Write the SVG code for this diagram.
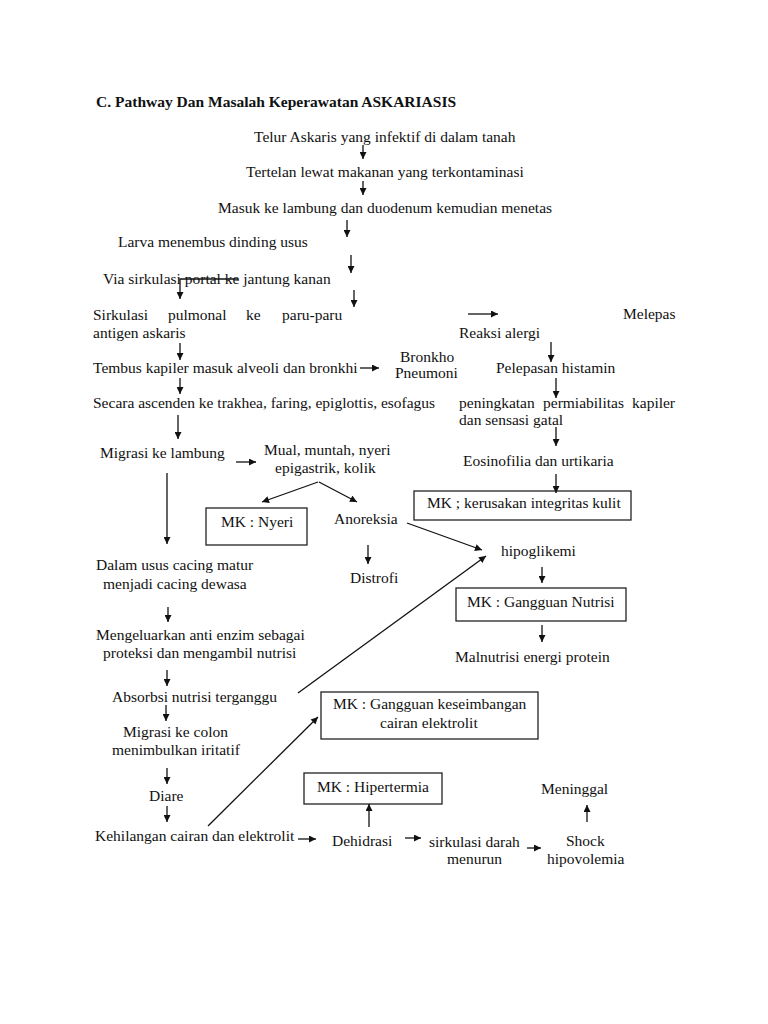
<svg xmlns="http://www.w3.org/2000/svg" width="768" height="1024" viewBox="0 0 768 1024">
<style>
text{font-family:"Liberation Serif","Times New Roman",serif;font-size:15.5px;fill:#111}
.t{font-weight:bold}
.box{fill:#fff;stroke:#222;stroke-width:1.3}
.c line,.c polyline{stroke:#111;stroke-width:1.3;fill:none;marker-end:url(#ah)}
</style>
<defs>
<marker id="ah" viewBox="0 0 10 10" refX="10" refY="5" markerWidth="8" markerHeight="7" markerUnits="userSpaceOnUse" orient="auto">
<path d="M0,0 L10,5 L0,10 z" fill="#111"/>
</marker>
</defs>
<rect width="768" height="1024" fill="#fff"/>
<text class="t" x="96" y="107">C.</text>
<text class="t" x="115" y="107">Pathway Dan Masalah Keperawatan ASKARIASIS</text>

<g id="n1"><text x="254" y="142">Telur Askaris yang infektif di dalam tanah</text></g>
<g id="n2"><text x="246" y="177">Tertelan lewat makanan yang terkontaminasi</text></g>
<g id="n3"><text x="218" y="213">Masuk ke lambung dan duodenum kemudian menetas</text></g>
<g id="n4"><text x="118" y="247">Larva menembus dinding usus</text></g>
<g id="n5"><text x="103" y="284">Via sirkulasi portal ke jantung kanan</text></g>
<g id="n6"><text x="93" y="320">Sirkulasi</text><text x="168" y="320">pulmonal</text><text x="246" y="320">ke</text><text x="282" y="320">paru-paru</text><text x="623" y="319">Melepas</text><text x="93" y="338">antigen askaris</text></g>
<g id="n7"><text x="459" y="338">Reaksi alergi</text></g>
<g id="n8"><text x="400" y="362">Bronkho</text><text x="395" y="378">Pneumoni</text></g>
<g id="n9"><text x="93" y="373">Tembus kapiler masuk alveoli dan bronkhi</text></g>
<g id="n10"><text x="496" y="373">Pelepasan histamin</text></g>
<g id="n11"><text x="93" y="408">Secara ascenden ke trakhea, faring, epiglottis, esofagus</text></g>
<g id="n12"><text x="459" y="408">peningkatan</text><text x="543" y="408">permiabilitas</text><text x="632" y="408">kapiler</text><text x="459" y="425">dan sensasi gatal</text></g>
<g id="n13"><text x="100" y="458">Migrasi ke lambung</text></g>
<g id="n14"><text x="264" y="455">Mual, muntah, nyeri</text><text x="275" y="473">epigastrik, kolik</text></g>
<g id="n15"><text x="463" y="466">Eosinofilia dan urtikaria</text></g>
<g id="n16"><rect class="box" x="414" y="491" width="217" height="29"/><text x="427" y="508">MK ; kerusakan integritas kulit</text></g>
<g id="n17"><rect class="box" x="206" y="508" width="101" height="37"/><text x="221" y="527">MK : Nyeri</text></g>
<g id="n18"><text x="334" y="524">Anoreksia</text></g>
<g id="n19"><text x="501" y="556">hipoglikemi</text></g>
<g id="n20"><text x="350" y="583">Distrofi</text></g>
<g id="n21"><text x="96" y="570">Dalam usus cacing matur</text><text x="103" y="589">menjadi cacing dewasa</text></g>
<g id="n22"><rect class="box" x="456" y="588" width="170" height="33"/><text x="467" y="607">MK : Gangguan Nutrisi</text></g>
<g id="n23"><text x="96" y="640">Mengeluarkan anti enzim sebagai</text><text x="103" y="658">proteksi dan mengambil nutrisi</text></g>
<g id="n24"><text x="455" y="662">Malnutrisi energi protein</text></g>
<g id="n25"><text x="112" y="702">Absorbsi nutrisi terganggu</text></g>
<g id="n26"><rect class="box" x="321" y="692" width="217" height="47"/><text x="333" y="709">MK : Gangguan keseimbangan</text><text x="380" y="728">cairan elektrolit</text></g>
<g id="n27"><text x="123" y="737">Migrasi ke colon</text><text x="112" y="755">menimbulkan iritatif</text></g>
<g id="n28"><rect class="box" x="304" y="773" width="138" height="31"/><text x="317" y="792">MK : Hipertermia</text></g>
<g id="n29"><text x="541" y="794">Meninggal</text></g>
<g id="n30"><text x="149" y="801">Diare</text></g>
<g id="n31"><text x="95" y="841">Kehilangan cairan dan elektrolit</text></g>
<g id="n32"><text x="332" y="846">Dehidrasi</text></g>
<g id="n33"><text x="429" y="847">sirkulasi darah</text><text x="447" y="864">menurun</text></g>
<g id="n34"><text x="566" y="846">Shock</text><text x="547" y="864">hipovolemia</text></g>

<g id="connectors" class="c">
<line x1="363" y1="145" x2="363" y2="159"/>
<line x1="363" y1="181" x2="363" y2="195"/>
<line x1="347" y1="220" x2="347" y2="237"/>
<line x1="351" y1="255" x2="351" y2="273"/>
<polyline points="238,279 180,279 180,299"/>
<line x1="354" y1="290" x2="354" y2="307"/>
<line x1="468" y1="314" x2="498" y2="314"/>
<line x1="180" y1="343" x2="180" y2="360"/>
<line x1="551" y1="342" x2="551" y2="362"/>
<line x1="360" y1="368" x2="379" y2="368"/>
<line x1="180" y1="378" x2="180" y2="394"/>
<line x1="556" y1="378" x2="556" y2="398"/>
<line x1="178" y1="415" x2="178" y2="439"/>
<line x1="556" y1="427" x2="556" y2="446"/>
<line x1="236" y1="462" x2="256" y2="462"/>
<line x1="556" y1="474" x2="556" y2="493"/>
<line x1="167" y1="473" x2="167" y2="544"/>
<line x1="318" y1="482" x2="262" y2="502"/>
<line x1="319" y1="482" x2="357" y2="502"/>
<line x1="407" y1="523" x2="482" y2="550"/>
<line x1="368" y1="545" x2="368" y2="564"/>
<line x1="542" y1="567" x2="542" y2="583"/>
<line x1="168" y1="607" x2="168" y2="622"/>
<line x1="542" y1="625" x2="542" y2="642"/>
<line x1="167" y1="670" x2="167" y2="686"/>
<line x1="298" y1="693" x2="486" y2="556"/>
<line x1="166" y1="705" x2="166" y2="721"/>
<line x1="167" y1="768" x2="167" y2="784"/>
<line x1="167" y1="806" x2="167" y2="822"/>
<line x1="208" y1="826" x2="318" y2="717"/>
<line x1="298" y1="839" x2="316" y2="839"/>
<line x1="369" y1="827" x2="369" y2="804"/>
<line x1="405" y1="838" x2="421" y2="838"/>
<line x1="527" y1="848" x2="541" y2="848"/>
<line x1="587" y1="822" x2="587" y2="805"/>
</g>
</svg>
